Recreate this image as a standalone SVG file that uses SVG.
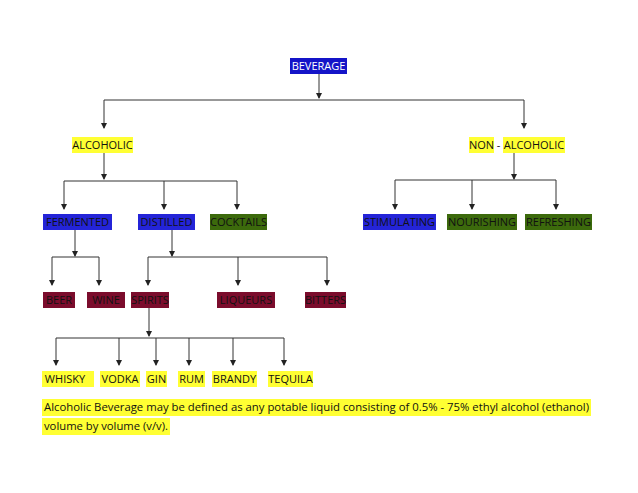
<svg xmlns="http://www.w3.org/2000/svg" width="638" height="493" viewBox="0 0 638 493">
<defs>
<marker id="ah" markerWidth="6" markerHeight="6" refX="5" refY="3" orient="auto" markerUnits="userSpaceOnUse"><path d="M0,0 L6,3 L0,6 z" fill="#222"/></marker>
<style>
text{font-family:"Open Sans","Liberation Sans",sans-serif;font-size:11px;fill:#111;text-anchor:middle}
.w{fill:#fff}
.blue{fill:#2424d8}.dblue{fill:#1414c8}.green{fill:#3c6a0c}.maroon{fill:#7b0c2c}.yel{fill:#ffff33}
#conn path{fill:none;stroke:#333;stroke-width:1}
#conn .a{marker-end:url(#ah)}
</style>
</defs>
<rect width="638" height="493" fill="#fff"/>
<g id="conn">
<path class="a" d="M319,74 V98"/>
<path d="M104,100 H524"/>
<path class="a" d="M104,100 V128"/><path class="a" d="M524,100 V128"/>
<path class="a" d="M104,153 V179"/>
<path d="M64,181 H237"/>
<path class="a" d="M64,181 V209"/><path class="a" d="M164,181 V209"/><path class="a" d="M237,181 V209"/>
<path class="a" d="M514,153 V179"/>
<path d="M395,180 H556"/>
<path class="a" d="M395,180 V209"/><path class="a" d="M472,180 V209"/><path class="a" d="M556,180 V209"/>
<path class="a" d="M75,230 V256"/>
<path d="M52,257 H99"/>
<path class="a" d="M52,257 V285"/><path class="a" d="M99,257 V285"/>
<path class="a" d="M172,230 V256"/>
<path d="M148,257 H327"/>
<path class="a" d="M148,257 V285"/><path class="a" d="M238,257 V285"/><path class="a" d="M327,257 V285"/>
<path class="a" d="M149,308 V336"/>
<path d="M56,338 H284"/>
<path class="a" d="M56,338 V365"/><path class="a" d="M119,338 V365"/><path class="a" d="M156,338 V365"/><path class="a" d="M189,338 V365"/><path class="a" d="M233,338 V365"/><path class="a" d="M284,338 V365"/>
</g>
<g id="beverage"><rect class="dblue" x="290" y="58" width="57" height="16"/><text class="w" x="318.5" y="70">BEVERAGE</text></g>
<g id="alcoholic"><rect class="yel" x="72" y="137" width="61" height="16"/><text x="102.5" y="149">ALCOHOLIC</text></g>
<g id="nonalcoholic"><rect class="yel" x="469" y="137" width="25" height="16"/><rect class="yel" x="503" y="137" width="62" height="16"/><text x="481.5" y="149">NON</text><text x="498.5" y="149">-</text><text x="534" y="149">ALCOHOLIC</text></g>
<g id="fermented"><rect class="blue" x="43" y="214" width="69" height="16"/><text x="77.5" y="226">FERMENTED</text></g>
<g id="distilled"><rect class="blue" x="138" y="214" width="57" height="16"/><text x="166.5" y="226">DISTILLED</text></g>
<g id="cocktails"><rect class="green" x="210" y="214" width="57" height="16"/><text x="238.5" y="226">COCKTAILS</text></g>
<g id="stimulating"><rect class="blue" x="363" y="214" width="73" height="16"/><text x="399.5" y="226">STIMULATING</text></g>
<g id="nourishing"><rect class="green" x="447" y="214" width="70" height="16"/><text x="482" y="226">NOURISHING</text></g>
<g id="refreshing"><rect class="green" x="525" y="214" width="67" height="16"/><text x="558.5" y="226">REFRESHING</text></g>
<g id="beer"><rect class="maroon" x="43" y="292" width="32" height="16"/><text x="59" y="304">BEER</text></g>
<g id="wine"><rect class="maroon" x="87" y="292" width="38" height="16"/><text x="106" y="304">WINE</text></g>
<g id="spirits"><rect class="maroon" x="131" y="292" width="38" height="16"/><text x="150" y="304">SPIRITS</text></g>
<g id="liqueurs"><rect class="maroon" x="217" y="292" width="58" height="16"/><text x="246" y="304">LIQUEURS</text></g>
<g id="bitters"><rect class="maroon" x="305" y="292" width="41" height="16"/><text x="325.5" y="304">BITTERS</text></g>
<g id="whisky"><rect class="yel" x="42" y="371" width="52" height="16"/><text x="65" y="383">WHISKY</text></g>
<g id="vodka"><rect class="yel" x="100" y="371" width="40" height="16"/><text x="120" y="383">VODKA</text></g>
<g id="gin"><rect class="yel" x="146" y="371" width="21" height="16"/><text x="156.5" y="383">GIN</text></g>
<g id="rum"><rect class="yel" x="178" y="371" width="27" height="16"/><text x="191.5" y="383">RUM</text></g>
<g id="brandy"><rect class="yel" x="212" y="371" width="45" height="16"/><text x="234.5" y="383">BRANDY</text></g>
<g id="tequila"><rect class="yel" x="268" y="371" width="45" height="16"/><text x="290.5" y="383">TEQUILA</text></g>
<g id="note">
<rect class="yel" x="42" y="399" width="549" height="17"/><rect class="yel" x="42" y="418" width="128" height="17"/>
<text x="44" y="411" style="text-anchor:start" textLength="545" lengthAdjust="spacingAndGlyphs">Alcoholic Beverage may be defined as any potable liquid consisting of 0.5% - 75% ethyl alcohol (ethanol)</text>
<text x="44" y="430" style="text-anchor:start" textLength="124" lengthAdjust="spacingAndGlyphs">volume by volume (v/v).</text>
</g>
</svg>
